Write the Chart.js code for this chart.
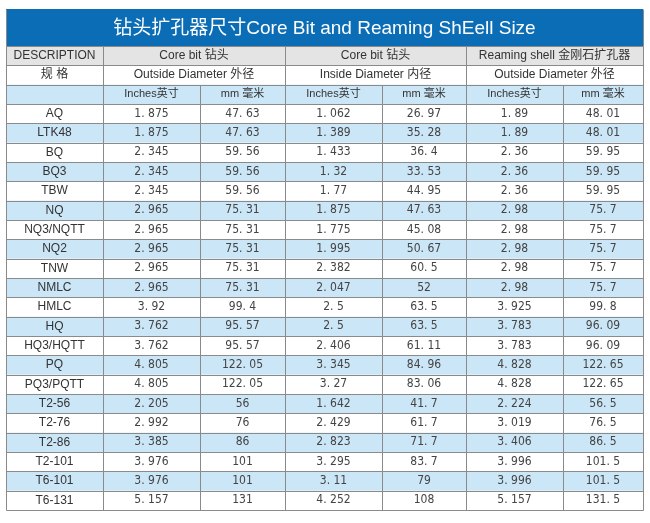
<!DOCTYPE html>
<html><head><meta charset="utf-8">
<script src="https://cdn.jsdelivr.net/npm/chart.js@4"></script>
<style>html,body{margin:0;padding:0;background:#fff}#w{width:650px;height:523px}</style>
</head><body><div id="w"><canvas id="c"></canvas></div>
<script>
const title = "钻头扩孔器尺寸Core Bit and Reaming ShEell Size";
const header1 = ["DESCRIPTION","Core bit 钻头","Core bit 钻头","Reaming shell 金刚石扩孔器"];
const header2 = ["规 格","Outside Diameter 外径","Inside Diameter 内径","Outside Diameter 外径"];
const header3 = ["","Inches英寸","mm 毫米","Inches英寸","mm 毫米","Inches英寸","mm 毫米"];
const categories = ["AQ","LTK48","BQ","BQ3","TBW","NQ","NQ3/NQTT","NQ2","TNW","NMLC","HMLC","HQ","HQ3/HQTT","PQ","PQ3/PQTT","T2-56","T2-76","T2-86","T2-101","T6-101","T6-131"];
const odInch = ["1.875","1.875","2.345","2.345","2.345","2.965","2.965","2.965","2.965","2.965","3.92","3.762","3.762","4.805","4.805","2.205","2.992","3.385","3.976","3.976","5.157"];
const odMm = ["47.63","47.63","59.56","59.56","59.56","75.31","75.31","75.31","75.31","75.31","99.4","95.57","95.57","122.05","122.05","56","76","86","101","101","131"];
const idInch = ["1.062","1.389","1.433","1.32","1.77","1.875","1.775","1.995","2.382","2.047","2.5","2.5","2.406","3.345","3.27","1.642","2.429","2.823","3.295","3.11","4.252"];
const idMm = ["26.97","35.28","36.4","33.53","44.95","47.63","45.08","50.67","60.5","52","63.5","63.5","61.11","84.96","83.06","41.7","61.7","71.7","83.7","79","108"];
const rsInch = ["1.89","1.89","2.36","2.36","2.36","2.98","2.98","2.98","2.98","2.98","3.925","3.783","3.783","4.828","4.828","2.224","3.019","3.406","3.996","3.996","5.157"];
const rsMm = ["48.01","48.01","59.95","59.95","59.95","75.7","75.7","75.7","75.7","75.7","99.8","96.09","96.09","122.65","122.65","56.5","76.5","86.5","101.5","101.5","131.5"];
const cols = [6,103,200,285,382,466,563,643];
const titleTop=9, titleBot=46, rowH=(510-46)/24;
const fmt = s => s.replace(/\./,". ");
const table = categories.map((c,i)=>[c,odInch[i],odMm[i],idInch[i],idMm[i],rsInch[i],rsMm[i]]);

const tablePlugin = {id:'tbl', afterDraw(ch){
  const g=ch.ctx, X=ch.scales.x, Y=ch.scales.y;
  const px=v=>X.getPixelForValue(v), py=v=>Y.getPixelForValue(v);
  const rowY=r=>titleBot+r*rowH;
  const rect=(x0,y0,x1,y1,f)=>{g.fillStyle=f;g.fillRect(px(x0),py(y0),px(x1)-px(x0),py(y1)-py(y0));};
  const txt=(s,x,y,font,col)=>{g.font=font;g.fillStyle=col;g.textAlign='center';g.textBaseline='middle';g.fillText(s,px(x),py(y));};
  g.save();
  rect(cols[0],titleTop,cols[7],titleBot,'#0b6db5');
  txt(title,(cols[0]+cols[7])/2,(titleTop+titleBot)/2+1,'19px "Liberation Sans","Noto Sans CJK SC",sans-serif','#fff');
  rect(cols[0],rowY(0),cols[7],rowY(1),'#e4e4e4');
  rect(cols[0],rowY(2),cols[7],rowY(3),'#cbe6f7');
  table.forEach((r,i)=>{ if(i%2==1) rect(cols[0],rowY(3+i),cols[7],rowY(4+i),'#cbe6f7'); });
  const hf='12px "Liberation Sans","Noto Sans CJK SC",sans-serif', sf='11px "Liberation Sans","Noto Sans CJK SC",sans-serif';
  const spans=[[0,1],[1,3],[3,5],[5,7]];
  spans.forEach((s,k)=>{const cx=(cols[s[0]]+cols[s[1]])/2;
    txt(header1[k],cx,(rowY(0)+rowY(1))/2,hf,'#333');
    txt(header2[k],cx,(rowY(1)+rowY(2))/2,hf,'#333');});
  header3.forEach((h,k)=>txt(h,(cols[k]+cols[k+1])/2,(rowY(2)+rowY(3))/2,sf,'#333'));
  table.forEach((r,i)=>r.forEach((v,k)=>txt(k?fmt(v):v,(cols[k]+cols[k+1])/2,(rowY(3+i)+rowY(4+i))/2,k?'12px "DejaVu Sans Condensed",sans-serif':hf,k?'#444':'#333')));
  g.strokeStyle='#8a8a8a';g.lineWidth=1;
  const line=(x0,y0,x1,y1)=>{g.beginPath();g.moveTo(Math.round(px(x0))+.5,Math.round(py(y0))+.5);g.lineTo(Math.round(px(x1))+.5,Math.round(py(y1))+.5);g.stroke();};
  for(let r=0;r<=24;r++) line(cols[0],rowY(r),cols[7],rowY(r));
  [0,1,3,5,7].forEach(k=>line(cols[k],titleBot,cols[k],rowY(24)));
  [2,4,6].forEach(k=>line(cols[k],rowY(2),cols[k],rowY(24)));
  line(cols[0],titleTop,cols[0],titleBot);line(cols[7],titleTop,cols[7],titleBot);
  g.restore();
}};
new Chart(document.getElementById('c'),{type:'scatter',
  data:{datasets:[{data:categories.map((c,i)=>({x:cols[0],y:titleBot+(3.5+i)*rowH})),pointRadius:0}]},
  options:{responsive:true,maintainAspectRatio:false,animation:false,layout:{padding:0},
    plugins:{legend:{display:false},tooltip:{enabled:false}},
    scales:{x:{type:'linear',min:0,max:650,display:false},y:{type:'linear',min:0,max:523,reverse:true,display:false}}},
  plugins:[tablePlugin]});
</script></body></html>
